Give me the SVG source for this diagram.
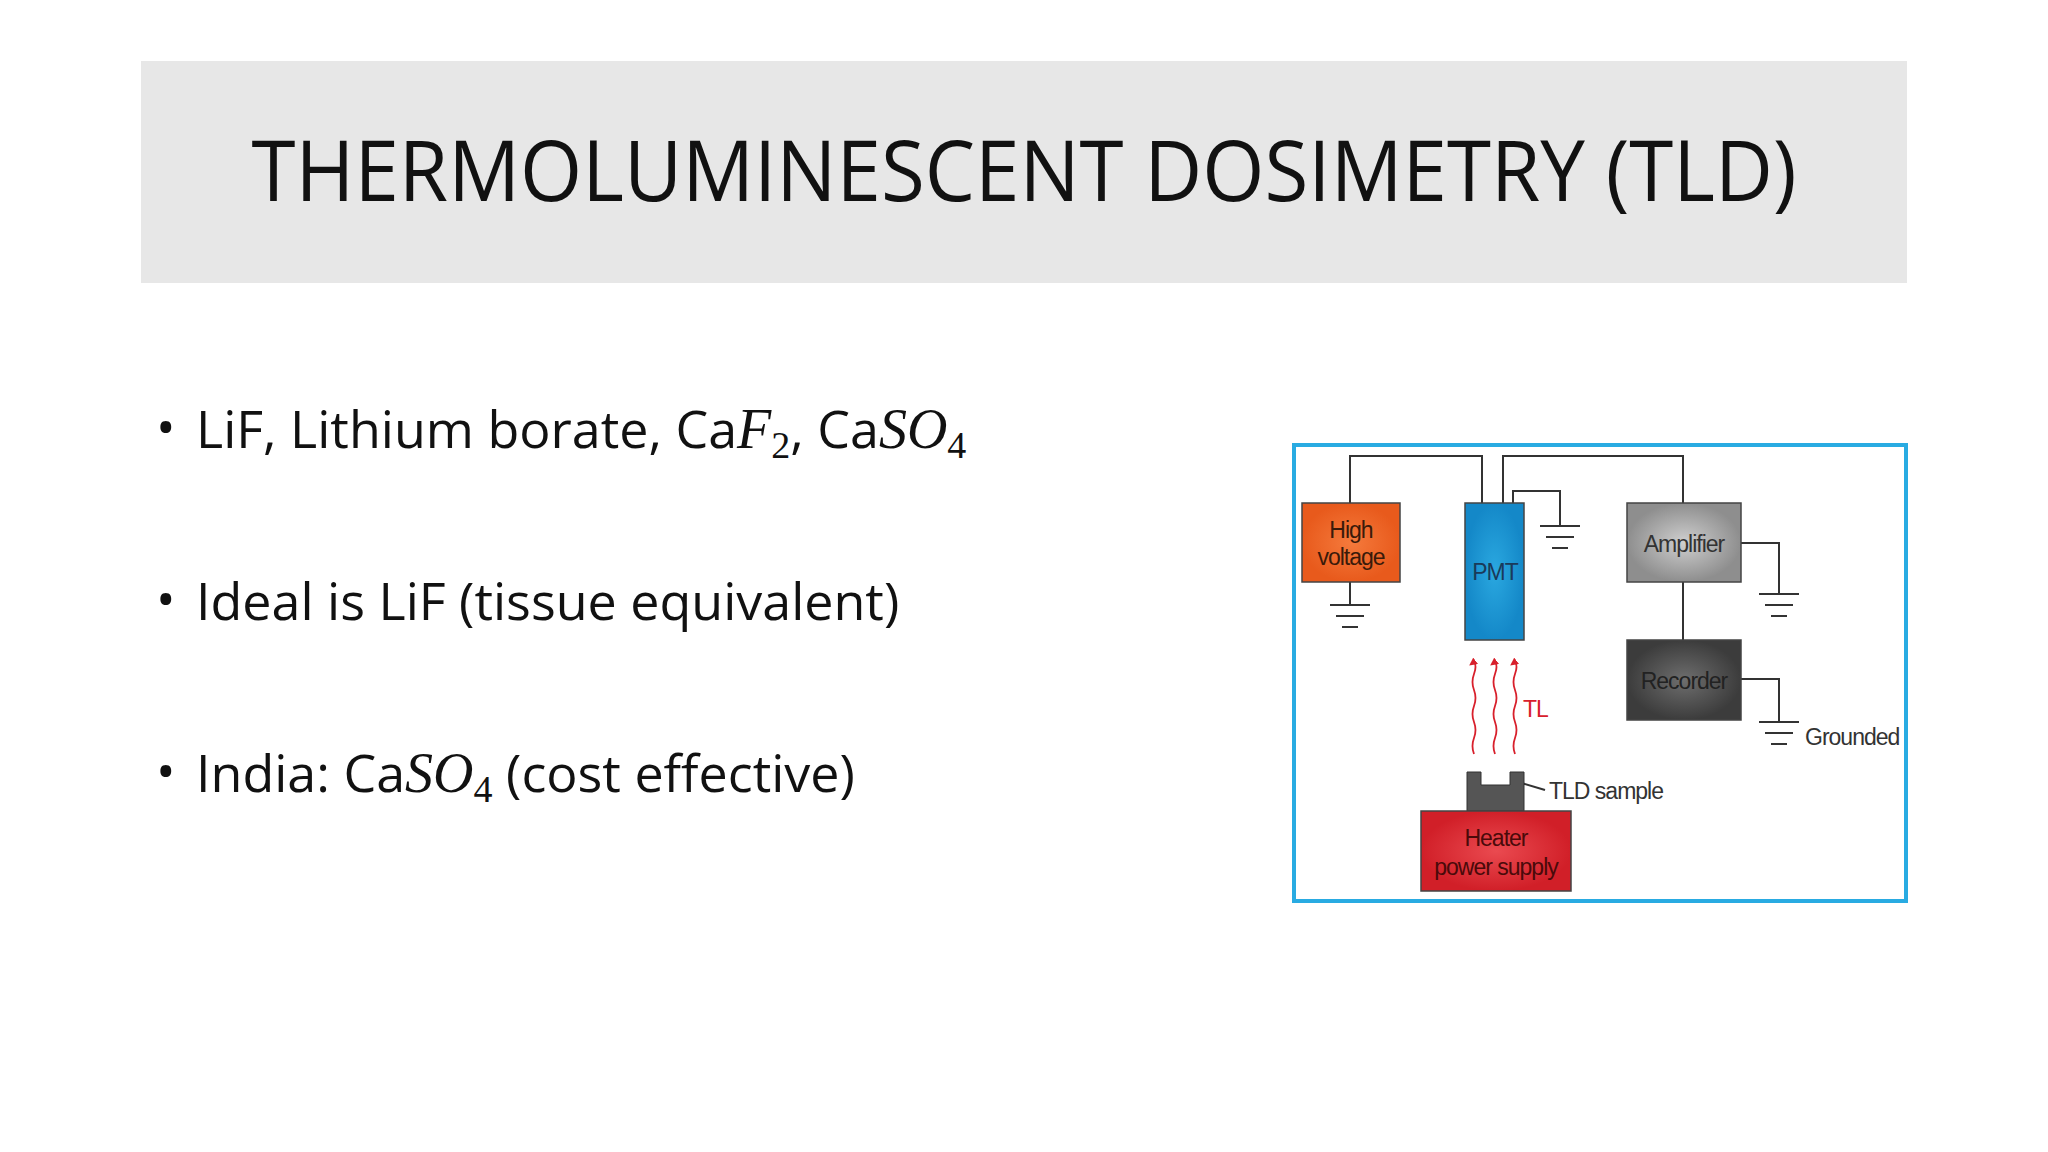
<svg xmlns="http://www.w3.org/2000/svg" xmlns:xlink="http://www.w3.org/1999/xlink" width="2048" height="1152" viewBox="0 0 2048 1152">
<style>
.bul{font-family:"Open Sans","Liberation Sans",sans-serif;font-size:52px;fill:#111}
.dot{font-family:"Open Sans","Liberation Sans",sans-serif;font-size:52px;fill:#111}
.m{font-family:"Liberation Serif",serif;font-style:italic;font-size:56px}
.sub{font-family:"Liberation Serif",serif;font-size:38px}
.w{fill:none;stroke:#333;stroke-width:2}
.lbl{font-family:"Liberation Sans",sans-serif;font-size:23px;letter-spacing:-1px;text-anchor:middle}
.box{stroke:#444;stroke-width:1.5}
</style>
<defs>
<g id="gnd" class="w"><line x1="-20" y1="0" x2="20" y2="0"/><line x1="-14" y1="11" x2="14" y2="11"/><line x1="-8" y1="22" x2="8" y2="22"/></g>
<radialGradient id="gOr"><stop offset="0" stop-color="#f57a3c"/><stop offset="1" stop-color="#e85a1c"/></radialGradient>
<radialGradient id="gBl"><stop offset="0" stop-color="#2aa8e0"/><stop offset="1" stop-color="#1488c8"/></radialGradient>
<radialGradient id="gGr"><stop offset="0" stop-color="#cfcfcf"/><stop offset="1" stop-color="#8e8e8e"/></radialGradient>
<radialGradient id="gDk"><stop offset="0" stop-color="#6e6e6e"/><stop offset="1" stop-color="#3c3c3c"/></radialGradient>
<radialGradient id="gRd"><stop offset="0" stop-color="#ea4a50"/><stop offset="1" stop-color="#d11f28"/></radialGradient>
<marker id="ah" markerWidth="8" markerHeight="8" refX="4" refY="6" orient="auto" markerUnits="userSpaceOnUse" viewBox="0 0 8 8"><path d="M0,8 L4,0 L8,8 Z" fill="#d8202c"/></marker>
</defs>
<rect x="141" y="61" width="1766" height="222" fill="#e7e7e7"/>
<text x="1024" y="201" font-family="Open Sans,Liberation Sans,sans-serif" font-size="84" text-anchor="middle" textLength="1545" lengthAdjust="spacingAndGlyphs" fill="#111">THERMOLUMINESCENT DOSIMETRY (TLD)</text>
<g id="bullets">
<text class="dot" x="156" y="446">•</text>
<text class="dot" x="156" y="618">•</text>
<text class="dot" x="156" y="790">•</text>
<text class="bul" x="196" y="448">LiF, Lithium borate, Ca<tspan class="m">F</tspan><tspan class="sub" dy="10">2</tspan><tspan dy="-10">, Ca</tspan><tspan class="m">SO</tspan><tspan class="sub" dy="10">4</tspan></text>
<text class="bul" x="196" y="620">Ideal is LiF (tissue equivalent)</text>
<text class="bul" x="196" y="792">India: Ca<tspan class="m">SO</tspan><tspan class="sub" dy="10">4</tspan><tspan dy="-10"> (cost effective)</tspan></text>
</g>
<rect x="1294" y="445" width="612" height="456" fill="#fff" stroke="#29abe2" stroke-width="4"/>
<g id="connectors">
<polyline class="w" points="1350,503 1350,456 1482,456 1482,503"/>
<polyline class="w" points="1503,503 1503,456 1683,456 1683,503"/>
<polyline class="w" points="1513,503 1513,491 1560,491 1560,526"/>
<use href="#gnd" x="1560" y="526"/>
<line class="w" x1="1350" y1="582" x2="1350" y2="605"/>
<use href="#gnd" x="1350" y="605"/>
<polyline class="w" points="1741,543 1779,543 1779,594"/>
<use href="#gnd" x="1779" y="594"/>
<line class="w" x1="1683" y1="582" x2="1683" y2="640"/>
<polyline class="w" points="1741,679 1779,679 1779,722"/>
<use href="#gnd" x="1779" y="722"/>
<line class="w" x1="1511" y1="780" x2="1545" y2="790"/>
<g fill="none" stroke="#d8202c" stroke-width="1.8" marker-end="url(#ah)">
<path d="M1474,754 q-3,-8 0,-16 t0,-16 t0,-16 t0,-16 t0,-16 t0,-12"/>
<path d="M1495,754 q-3,-8 0,-16 t0,-16 t0,-16 t0,-16 t0,-16 t0,-12"/>
<path d="M1515,754 q-3,-8 0,-16 t0,-16 t0,-16 t0,-16 t0,-16 t0,-12"/>
</g>
</g>
<g id="hv"><rect class="box" x="1302" y="503" width="98" height="79" fill="url(#gOr)"/><text class="lbl" x="1351" y="538" fill="#3a1a0a">High</text><text class="lbl" x="1351" y="565" fill="#3a1a0a">voltage</text></g>
<g id="pmt"><rect class="box" x="1465" y="503" width="59" height="137" fill="url(#gBl)"/><text class="lbl" x="1495" y="580" fill="#1a3a5a">PMT</text></g>
<g id="amp"><rect class="box" x="1627" y="503" width="114" height="79" fill="url(#gGr)"/><text class="lbl" x="1684" y="552" fill="#333">Amplifier</text></g>
<g id="rec"><rect class="box" x="1627" y="640" width="114" height="80" fill="url(#gDk)"/><text class="lbl" x="1684" y="689" fill="#222">Recorder</text></g>
<g id="sample"><path d="M1467,811 V772 H1481 V785 H1510 V772 H1524 V811 Z" fill="#555" stroke="#333" stroke-width="1"/><text class="lbl" x="1549" y="799" style="text-anchor:start" fill="#333">TLD sample</text></g>
<g id="heater"><rect class="box" x="1421" y="811" width="150" height="80" fill="url(#gRd)"/><text class="lbl" x="1496" y="846" fill="#4a0a0a">Heater</text><text class="lbl" x="1496" y="875" fill="#4a0a0a">power supply</text></g>
<text class="lbl" x="1523" y="717" style="text-anchor:start" fill="#d8202c">TL</text>
<text class="lbl" x="1805" y="745" style="text-anchor:start" fill="#333">Grounded</text>
</svg>
